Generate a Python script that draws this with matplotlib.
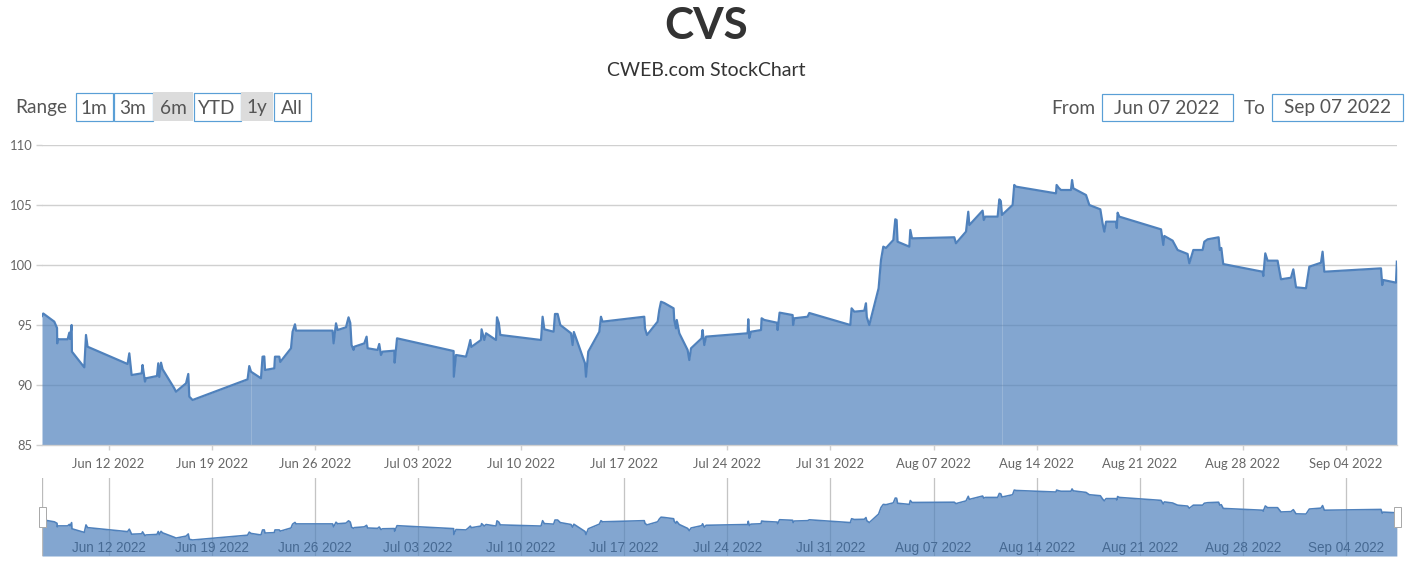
import matplotlib
matplotlib.use("Agg")
import matplotlib.pyplot as plt
import matplotlib.dates as mdates
import pandas as pd
from matplotlib.patches import Rectangle

# ---------------- data ----------------
times = [
    "2022-06-07 11:30", "2022-06-07 13:30", "2022-06-08 07:30", "2022-06-08 12:00", "2022-06-08 12:20",
    "2022-06-08 12:50", "2022-06-09 05:15", "2022-06-09 08:00", "2022-06-09 09:15", "2022-06-09 11:45",
    "2022-06-09 12:15", "2022-06-10 08:25", "2022-06-10 11:10", "2022-06-10 13:45", "2022-06-13 06:55",
    "2022-06-13 09:45", "2022-06-13 13:30", "2022-06-14 05:50", "2022-06-14 07:20", "2022-06-14 11:15",
    "2022-06-14 13:00", "2022-06-15 06:50", "2022-06-15 08:55", "2022-06-15 10:35", "2022-06-15 13:25",
    "2022-06-15 16:00", "2022-06-16 11:05", "2022-06-16 13:45", "2022-06-17 06:10", "2022-06-17 09:50",
    "2022-06-17 11:30", "2022-06-17 16:50", "2022-06-21 10:25", "2022-06-21 13:10", "2022-06-21 16:00",
    "2022-06-22 08:15", "2022-06-22 10:50", "2022-06-22 13:40", "2022-06-22 14:50", "2022-06-23 05:55",
    "2022-06-23 07:05", "2022-06-23 14:05", "2022-06-23 15:40", "2022-06-24 09:10", "2022-06-24 11:45",
    "2022-06-24 15:40", "2022-06-24 17:20", "2022-06-27 04:55", "2022-06-27 06:35", "2022-06-27 10:30",
    "2022-06-27 13:05", "2022-06-28 02:45", "2022-06-28 06:55", "2022-06-28 09:45", "2022-06-28 11:50",
    "2022-06-28 15:10", "2022-06-28 16:20", "2022-06-29 08:35", "2022-06-29 12:20", "2022-06-29 14:00",
    "2022-06-30 06:15", "2022-06-30 08:55", "2022-06-30 11:45", "2022-06-30 14:25", "2022-07-01 09:30",
    "2022-07-01 10:00", "2022-07-01 13:55", "2022-07-05 10:05", "2022-07-05 10:25", "2022-07-05 14:00",
    "2022-07-06 06:15", "2022-07-06 10:05", "2022-07-06 13:20", "2022-07-06 14:55", "2022-07-07 06:40",
    "2022-07-07 07:40", "2022-07-07 12:05", "2022-07-07 14:55", "2022-07-08 07:10", "2022-07-08 08:45",
    "2022-07-08 11:45", "2022-07-08 14:10", "2022-07-11 08:30", "2022-07-11 11:05", "2022-07-11 13:55",
    "2022-07-12 05:05", "2022-07-12 07:15", "2022-07-12 11:35", "2022-07-12 15:55", "2022-07-13 09:25",
    "2022-07-13 12:00", "2022-07-13 14:00", "2022-07-14 08:10", "2022-07-14 09:45", "2022-07-14 13:30",
    "2022-07-15 07:30", "2022-07-15 10:10", "2022-07-15 12:45", "2022-07-18 08:45", "2022-07-18 09:55",
    "2022-07-18 13:10", "2022-07-19 06:30", "2022-07-19 09:10", "2022-07-19 12:00", "2022-07-19 17:25",
    "2022-07-20 08:30", "2022-07-20 09:35", "2022-07-20 12:25", "2022-07-20 13:40", "2022-07-20 17:50",
    "2022-07-21 07:20", "2022-07-21 10:05", "2022-07-21 12:55", "2022-07-22 06:10", "2022-07-22 07:45",
    "2022-07-22 10:30", "2022-07-22 13:20", "2022-07-25 09:05", "2022-07-25 10:10", "2022-07-25 11:50",
    "2022-07-25 14:35", "2022-07-26 06:55", "2022-07-26 07:55", "2022-07-26 12:20", "2022-07-27 09:00",
    "2022-07-27 10:00", "2022-07-27 13:10", "2022-07-28 10:25", "2022-07-28 11:10", "2022-07-28 13:10",
    "2022-07-29 10:50", "2022-07-29 13:35", "2022-08-01 08:25", "2022-08-01 10:30", "2022-08-01 14:55",
    "2022-08-02 07:10", "2022-08-02 09:55", "2022-08-02 11:15", "2022-08-02 15:20", "2022-08-03 06:30",
    "2022-08-03 10:25", "2022-08-03 14:10", "2022-08-03 18:35", "2022-08-04 06:30", "2022-08-04 09:40",
    "2022-08-04 11:50", "2022-08-04 13:25", "2022-08-05 08:30", "2022-08-05 10:10", "2022-08-05 12:55",
    "2022-08-08 09:50", "2022-08-08 12:30", "2022-08-09 04:55", "2022-08-09 08:35", "2022-08-09 10:20",
    "2022-08-10 07:55", "2022-08-10 09:55", "2022-08-10 12:20", "2022-08-11 08:25", "2022-08-11 11:10",
    "2022-08-11 13:35", "2022-08-11 15:30", "2022-08-12 08:50", "2022-08-12 11:30", "2022-08-12 14:20",
    "2022-08-15 07:30", "2022-08-15 08:30", "2022-08-15 12:05", "2022-08-15 15:40", "2022-08-16 07:55",
    "2022-08-16 09:40", "2022-08-16 11:45", "2022-08-17 08:25", "2022-08-17 13:50", "2022-08-18 07:45",
    "2022-08-18 11:25", "2022-08-18 14:15", "2022-08-18 17:05", "2022-08-19 09:20", "2022-08-19 10:35",
    "2022-08-19 11:55", "2022-08-19 14:40", "2022-08-22 10:40", "2022-08-22 14:20", "2022-08-22 16:00",
    "2022-08-23 05:30", "2022-08-23 13:40", "2022-08-24 05:55", "2022-08-24 08:45", "2022-08-24 15:15",
    "2022-08-25 06:25", "2022-08-25 09:10", "2022-08-25 14:35", "2022-08-26 08:25", "2022-08-26 10:25",
    "2022-08-26 12:50", "2022-08-26 16:00", "2022-08-29 08:05", "2022-08-29 09:15", "2022-08-29 12:30",
    "2022-08-29 16:15", "2022-08-30 08:30", "2022-08-30 14:05", "2022-08-31 06:20", "2022-08-31 10:10",
    "2022-08-31 14:35", "2022-09-01 06:50", "2022-09-01 12:15", "2022-09-02 07:15", "2022-09-02 09:50",
    "2022-09-02 12:40", "2022-09-06 09:00", "2022-09-06 11:00", "2022-09-06 12:45", "2022-09-07 09:25",
    "2022-09-07 10:50",
]
prices = [
    95.75, 95.96, 95.28, 94.75, 93.47,
    93.81, 93.81, 94.36, 93.83, 95.00,
    92.78, 91.47, 94.17, 93.19, 91.75,
    92.64, 90.83, 90.97, 91.67, 90.28,
    90.56, 90.75, 91.81, 90.67, 91.86,
    91.31, 89.72, 89.44, 90.14, 90.92,
    89.03, 88.75, 90.47, 91.58, 91.11,
    90.56, 92.36, 92.38, 91.25, 91.39,
    92.36, 92.36, 91.92, 93.06, 94.44,
    95.06, 94.53, 94.53, 93.47, 95.14,
    94.58, 94.81, 95.64, 95.17, 93.33,
    92.92, 93.19, 93.47, 94.03, 93.06,
    92.92, 93.42, 92.50, 92.78, 92.86,
    91.86, 93.89, 92.83, 90.69, 92.50,
    92.36, 93.06, 93.75, 93.17, 93.75,
    94.64, 93.75, 94.31, 93.75, 95.64,
    95.17, 94.17, 93.75, 95.69, 94.64,
    94.44, 95.92, 95.92, 95.00, 94.31,
    93.33, 94.42, 91.81, 90.69, 92.78,
    94.44, 95.69, 95.28, 95.69, 94.72,
    94.17, 95.28, 96.25, 96.94, 96.83,
    96.39, 95.42, 94.72, 95.42, 94.31,
    92.92, 92.08, 93.06, 93.89, 94.58,
    93.33, 94.03, 94.31, 95.48, 93.92,
    94.44, 94.58, 95.56, 95.42, 95.19,
    94.58, 96.03, 95.83, 95.00, 95.56,
    95.69, 96.00, 95.00, 96.39, 96.11,
    96.19, 96.81, 95.67, 95.00, 98.06,
    100.42, 101.53, 101.42, 102.08, 103.81,
    103.75, 101.94, 101.53, 102.92, 102.22,
    102.31, 101.81, 102.78, 104.44, 103.33,
    104.53, 103.75, 104.03, 104.03, 105.47,
    105.33, 104.17, 105.00, 106.67, 106.53,
    105.97, 106.67, 106.42, 106.25, 106.25,
    107.08, 106.39, 105.83, 105.00, 104.64,
    103.47, 102.78, 103.61, 103.61, 103.08,
    104.36, 104.03, 102.97, 101.67, 102.42,
    102.03, 101.25, 100.92, 100.14, 101.25,
    101.25, 101.94, 102.14, 102.31, 101.25,
    101.42, 100.08, 99.44, 99.08, 100.97,
    100.36, 100.36, 98.81, 98.94, 99.64,
    98.14, 98.06, 99.86, 100.19, 101.11,
    99.44, 99.72, 98.33, 98.75, 98.53,
    100.28,
]

title_text = "CVS"
subtitle_text = "CWEB.com StockChart"
range_label = "Range"
range_buttons = ["1m", "3m", "6m", "YTD", "1y", "All"]
range_greyed = ["6m", "1y"]
from_text = "Jun 07 2022"
to_text = "Sep 07 2022"
y_ticks = [85, 90, 95, 100, 105, 110]
view_start = "2022-06-07 11:30"
view_end = "2022-09-07 11:05"
nav_ylim = (83.0, 111.0)

# ---------------- style ----------------
W, H, DPI = 1412, 562, 100
LINE = "#4F81BC"
GRID = "#d0d0d0"
FONT = ["Lato", "DejaVu Sans"]
plt.rcParams["font.family"] = FONT

def pt(px):
    return px * 72.0 / DPI

t = pd.to_datetime(times)
p = prices
x0, x1 = pd.Timestamp(view_start), pd.Timestamp(view_end)

fig = plt.figure(figsize=(W / DPI, H / DPI), dpi=DPI)
fig.patch.set_facecolor("white")

def px_axes(l, tp, r, b, **kw):
    return fig.add_axes([l / W, 1 - b / H, (r - l) / W, (b - tp) / H], **kw)

# ---------------- main chart ----------------
ax = px_axes(42, 145, 1397, 445)
ax.set_xlim(x0, x1)
ax.set_ylim(y_ticks[0], y_ticks[-1])
ax.set_yticks(y_ticks)
ax.yaxis.grid(True, color=GRID, linewidth=pt(1.4))
ax.set_axisbelow(True)
for s in ["top", "right", "left"]:
    ax.spines[s].set_visible(False)
ax.spines["bottom"].set_color(GRID)
ax.spines["bottom"].set_linewidth(pt(1.4))
ax.xaxis.set_major_locator(mdates.WeekdayLocator(byweekday=mdates.SU))
ax.xaxis.set_major_formatter(mdates.DateFormatter("%b %d %Y"))
ax.tick_params(axis="y", length=pt(6), width=pt(1.4), color=GRID, pad=pt(3.5),
               labelsize=pt(13), labelcolor="#666666")
ax.tick_params(axis="x", length=pt(5), width=pt(1.4), color=GRID, pad=pt(8),
               labelsize=pt(13), labelcolor="#666666")

# area drawn in segments (faint seams as in the original)
splits = [0, 34, 161, len(p)]
for a, b in zip(splits[:-1], splits[1:]):
    b2 = min(b + 1, len(p))
    ax.fill_between(t[a:b2], p[a:b2], y_ticks[0], color=LINE, alpha=0.7, linewidth=0, zorder=2)
ax.plot(t, p, color=LINE, linewidth=pt(2.2), solid_joinstyle="round", zorder=3)

# ---------------- navigator ----------------
nv = px_axes(42, 478, 1397, 556)
nv.set_xlim(x0, x1)
nv.set_ylim(*nav_ylim)
nv.set_yticks([])
for s in nv.spines.values():
    s.set_visible(False)
nv.xaxis.set_major_locator(mdates.WeekdayLocator(byweekday=mdates.SU))
nv.xaxis.set_major_formatter(mdates.DateFormatter("%b %d %Y"))
nv.xaxis.grid(True, color="#c4c4c4", linewidth=pt(1.3))
nv.set_axisbelow(True)
nv.tick_params(axis="x", length=0, direction="in", pad=-pt(15),
               labelsize=pt(13.5), labelcolor="#333333")
for lab in nv.get_xticklabels():
    lab.set_fontfamily(["Liberation Sans", "DejaVu Sans"])
    lab.set_zorder(5)
nv.fill_between(t, p, nav_ylim[0], color=LINE, alpha=0.7, linewidth=0, zorder=2)
nv.plot(t, p, color=LINE, linewidth=pt(1.6), zorder=3)
nv.axvline(x0, color="#bbbbbb", linewidth=pt(1.3), zorder=4)

# ---------------- overlay: titles, buttons, handles ----------------
ov = fig.add_axes([0, 0, 1, 1], zorder=10)
ov.set_xlim(0, W)
ov.set_ylim(H, 0)
ov.axis("off")
ov.patch.set_visible(False)

ov.text(706, 26, title_text, ha="center", va="center", fontsize=pt(44),
        fontweight="bold", color="#333333")
ov.text(706, 71, subtitle_text, ha="center", va="center", fontsize=pt(19.5),
        color="#333333")

BTN_TXT = pt(19)
TY = 108
ov.text(15, TY, range_label, ha="left", va="center", fontsize=BTN_TXT, color="#555555")
btn_edges = [75, 113, 153, 193, 241, 273, 311]
for lab, l, r in zip(range_buttons, btn_edges[:-1], btn_edges[1:]):
    if lab in range_greyed:
        ov.add_patch(Rectangle((l, 92), r - l, 29, facecolor="#dcdcdc", edgecolor="none"))
    else:
        ov.add_patch(Rectangle((l + 0.5, 92.5), r - l - 1, 28, facecolor="white",
                               edgecolor="#5a9fd6", linewidth=pt(1.2)))
    ov.text((l + r) / 2, TY, lab, ha="center", va="center", fontsize=BTN_TXT, color="#555555")

ov.text(1095, TY, "From", ha="right", va="center", fontsize=BTN_TXT, color="#555555")
ov.add_patch(Rectangle((1101.5, 93.5), 131, 27, facecolor="white", edgecolor="#5a9fd6",
                       linewidth=pt(1.2)))
ov.text(1167, TY, from_text, ha="center", va="center", fontsize=BTN_TXT, color="#555555")
ov.text(1265, TY, "To", ha="right", va="center", fontsize=BTN_TXT, color="#555555")
ov.add_patch(Rectangle((1271.5, 93.5), 131, 27, facecolor="white", edgecolor="#5a9fd6",
                       linewidth=pt(1.2)))
ov.text(1337, TY, to_text, ha="center", va="center", fontsize=BTN_TXT, color="#555555")

# navigator slider handles
for hx in (42, 1397):
    ov.add_patch(Rectangle((hx - 3.5, 507), 7, 20, facecolor="white", edgecolor="#aaaaaa",
                           linewidth=pt(1)))

fig.savefig("out.png", dpi=DPI, facecolor="white")
